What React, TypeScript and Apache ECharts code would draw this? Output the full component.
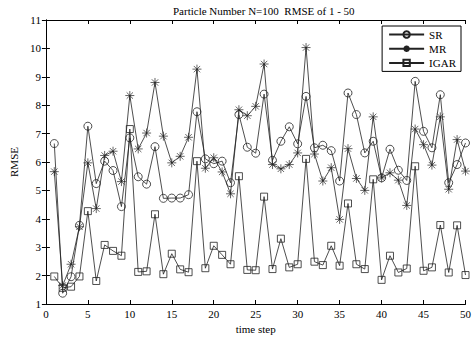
import React, { useEffect, useRef } from "react";
import * as echarts from "echarts";

const steps = Array.from({ length: 50 }, (_, i) => i + 1);

const srValues = [
  6.65, 1.38, 1.96, 3.77, 7.26, 5.24, 6.03, 5.7, 4.43, 6.85,
  5.48, 5.22, 6.54, 4.72, 4.73, 4.73, 4.85, 7.77, 6.11, 5.94,
  6.03, 5.27, 7.67, 6.52, 6.31, 8.39, 6.06, 6.73, 7.24, 6.64,
  8.31, 6.5, 6.59, 6.4, 5.33, 8.43, 7.67, 6.32, 6.73, 5.44,
  6.45, 5.71, 5.35, 8.84, 7.08, 6.5, 8.37, 5.27, 5.91, 6.67,
];

const mrValues = [
  5.66, 1.65, 2.4, 3.72, 5.97, 4.36, 6.23, 6.38, 5.31, 8.34,
  6.46, 7.02, 8.8, 6.91, 5.97, 6.2, 6.87, 9.27, 5.78, 6.15,
  5.65, 4.88, 7.84, 7.63, 7.96, 9.45, 5.91, 5.76, 5.91, 6.32,
  10.03, 6.28, 5.33, 5.8, 3.98, 6.47, 5.42, 5.0, 7.59, 5.44,
  5.62, 5.36, 4.47, 7.16, 6.61, 5.89, 7.59, 5.04, 6.79, 5.68,
];

const igarValues = [
  1.97, 1.57, 1.61, 1.97, 4.27, 1.81, 3.08, 2.87, 2.7, 7.16,
  2.13, 2.15, 4.16, 2.05, 2.77, 2.22, 2.12, 6.03, 2.26, 3.05,
  2.73, 2.4, 5.5, 2.2, 2.19, 4.78, 2.23, 3.3, 2.29, 2.4,
  6.11, 2.49, 2.37, 3.05, 2.35, 4.54, 2.4, 2.23, 5.39, 1.85,
  2.7, 2.11, 2.25, 5.85, 2.17, 2.29, 3.78, 2.11, 3.77, 2.02,
];

const seriesNames = ["SR", "MR", "IGAR"];

const FONT = "Liberation Serif";
const STAR =
  "path://M0,-10L0,10M-10,0L10,0M-7.07,-7.07L7.07,7.07M-7.07,7.07L7.07,-7.07";

export default function App() {
  const ref = useRef<HTMLDivElement>(null);

  useEffect(() => {
    if (!ref.current) return;
    const chart = echarts.init(ref.current, null, { renderer: "svg" });
    const pair = (vals: number[]) => steps.map((s, i) => [s, vals[i]]);
    const lineStyle = { color: "#222", width: 0.8 };
    const axisCommon = {
      axisLine: { show: true, lineStyle: { color: "#000", width: 1 } },
      axisTick: { show: true, inside: true, length: 4, lineStyle: { color: "#000" } },
      splitLine: { show: false },
    };
    chart.setOption({
      animation: false,
      backgroundColor: "#fff",
      title: {
        text: "Particle Number N=100  RMSE of 1 - 50",
        left: 168,
        top: 0,
        textStyle: { fontFamily: FONT, fontSize: 11, fontWeight: "normal", color: "#000" },
      },
      legend: {
        data: seriesNames,
        orient: "vertical",
        right: 13,
        top: 26,
        itemWidth: 35,
        itemHeight: 8,
        itemGap: 3,
        padding: [3, 5, 3, 6],
        borderColor: "#000",
        borderWidth: 1,
        backgroundColor: "#fff",
        textStyle: { fontFamily: FONT, fontSize: 11, color: "#000" },
      },
      grid: { left: 39, right: 8, top: 20, bottom: 57 },
      xAxis: [
        {
          type: "value",
          min: 0,
          max: 50,
          interval: 5,
          position: "bottom",
          name: "time step",
          nameLocation: "middle",
          nameGap: 19,
          nameTextStyle: { fontFamily: FONT, fontSize: 11, color: "#000" },
          axisLabel: { fontFamily: FONT, fontSize: 11, color: "#000", margin: 4 },
          ...axisCommon,
        },
        {
          type: "value",
          min: 0,
          max: 50,
          interval: 5,
          position: "top",
          axisLabel: { show: false },
          ...axisCommon,
        },
      ],
      yAxis: [
        {
          type: "value",
          min: 1,
          max: 11,
          interval: 1,
          position: "left",
          name: "RMSE",
          nameLocation: "middle",
          nameGap: 24,
          nameTextStyle: { fontFamily: FONT, fontSize: 11, color: "#000" },
          axisLabel: { fontFamily: FONT, fontSize: 11, color: "#000", margin: 5 },
          ...axisCommon,
        },
        {
          type: "value",
          min: 1,
          max: 11,
          interval: 1,
          position: "right",
          axisLabel: { show: false },
          ...axisCommon,
        },
      ],
      series: [
        {
          name: "SR",
          type: "line",
          data: pair(srValues),
          symbol: "circle",
          symbolSize: 8,
          lineStyle,
          itemStyle: { color: "rgba(0,0,0,0)", borderColor: "#222", borderWidth: 0.8 },
        },
        {
          name: "MR",
          type: "line",
          data: pair(mrValues),
          symbol: STAR,
          symbolSize: 9,
          lineStyle,
          itemStyle: { color: "none", borderColor: "#222", borderWidth: 0.7 },
        },
        {
          name: "IGAR",
          type: "line",
          data: pair(igarValues),
          symbol: "rect",
          symbolSize: 7,
          lineStyle,
          itemStyle: { color: "rgba(0,0,0,0)", borderColor: "#222", borderWidth: 0.8 },
        },
      ],
    });
    return () => chart.dispose();
  }, []);

  return (
    <div
      ref={ref}
      style={{ position: "absolute", left: 0, top: 0, width: 474, height: 361, background: "#fff" }}
    />
  );
}
